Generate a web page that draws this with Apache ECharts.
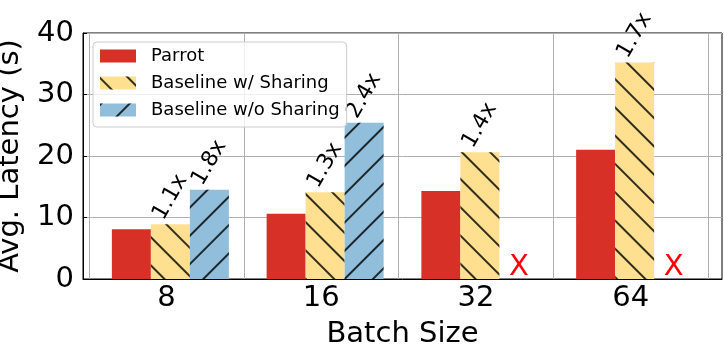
<!DOCTYPE html>
<html><head><meta charset="utf-8">
<script src="https://cdn.jsdelivr.net/npm/echarts@6/dist/echarts.min.js"></script>
<style>html,body{margin:0;padding:0;background:#fff}#c{width:724px;height:347px}</style>
</head><body><div id="c"></div>
<script>
// ---- data ----
const categories = ['8', '16', '32', '64'];
const yTicks = [0, 10, 20, 30, 40];
const seriesNames = ['Parrot', 'Baseline w/ Sharing', 'Baseline w/o Sharing'];
const parrot = [8.1, 10.6, 14.3, 21.0];
const withSharing = [8.9, 14.1, 20.6, 35.2];
const withoutSharing = [14.5, 25.4, null, null];
const withSharingLabels = ['1.1x', '1.3x', '1.4x', '1.7x'];
const withoutSharingLabels = ['1.8x', '2.4x', null, null];
const missingMark = 'X';

// ---- style ----
const FONT = 'DejaVu Sans';
const colors = ['#d73027', '#fee090', '#91bfdb'];
const yMin = yTicks[0], yMax = yTicks[yTicks.length - 1], yStep = yTicks[1] - yTicks[0];

const ratioLabel = {
  show: true, position: 'top', distance: 27, rotate: 60,
  align: 'center', verticalAlign: 'middle',
  fontFamily: FONT, fontSize: 22, color: '#000'
};
function hatch(rot) {
  return { symbol: 'rect', symbolSize: 1, dashArrayX: [1, 0], dashArrayY: [2, 18],
           rotation: rot, color: 'rgba(0,0,0,0.8)' };
}

const chart = echarts.init(document.getElementById('c'), null, { renderer: 'canvas' });
const hiddenY = (i) => ({ type: 'value', gridIndex: i, min: yMin, max: yMax, interval: yStep, show: false });
const gridBase = { top: 33, bottom: 68, outerBoundsMode: 'none', containLabel: false };

chart.setOption({
  animation: false,
  backgroundColor: '#fff',
  textStyle: { fontFamily: FONT },
  grid: [
    Object.assign({ left: 83, right: 2, show: true, borderColor: '#000', borderWidth: 1, backgroundColor: 'transparent' }, gridBase),
    Object.assign({ left: 89, right: 16 }, gridBase),
    Object.assign({ left: 93, right: 12 }, gridBase)
  ],
  xAxis: [
    { type: 'category', gridIndex: 0, data: categories, z: 10,
      axisLine: { show: true, lineStyle: { color: '#000', width: 1 } },
      axisTick: { show: false }, axisLabel: { show: false }, splitLine: { show: false },
      name: 'Batch Size', nameLocation: 'middle', nameGap: 41,
      nameTextStyle: { fontFamily: FONT, fontSize: 29, color: '#000' } },
    { type: 'category', gridIndex: 1, data: categories,
      axisLine: { show: false }, axisTick: { show: false },
      axisLabel: { margin: 5, fontFamily: FONT, fontSize: 29, color: '#000' },
      splitLine: { show: true, interval: 0, lineStyle: { color: '#b0b0b0', width: 1 } } },
    { type: 'category', gridIndex: 2, data: categories, show: false }
  ],
  yAxis: [
    { type: 'value', gridIndex: 0, min: yMin, max: yMax, interval: yStep,
      axisLine: { show: true, lineStyle: { color: '#000' } },
      axisTick: { show: true, inside: true, length: 4, lineStyle: { color: '#000' } },
      axisLabel: { margin: 9, fontFamily: FONT, fontSize: 29, color: '#000' },
      splitLine: { show: true, lineStyle: { color: '#b0b0b0', width: 1 } },
      name: 'Avg. Latency (s)', nameLocation: 'middle', nameGap: 58,
      nameTextStyle: { fontFamily: FONT, fontSize: 29, color: '#000' } },
    hiddenY(1), hiddenY(2)
  ],
  legend: {
    orient: 'vertical', left: 93, top: 42,
    padding: [5, 7, 8, 7], itemGap: 9, itemWidth: 36, itemHeight: 13,
    icon: 'rect',
    backgroundColor: 'rgba(255,255,255,0.8)', borderColor: '#cccccc', borderWidth: 1, borderRadius: 4,
    textStyle: { fontFamily: FONT, fontSize: 18, color: '#000', padding: [0, 0, 0, 10] },
    data: seriesNames
  },
  series: [
    { name: seriesNames[0], type: 'bar', xAxisIndex: 2, yAxisIndex: 2,
      barWidth: 39, barGap: '0%', itemStyle: { color: colors[0] },
      data: parrot },
    { name: seriesNames[1], type: 'bar', xAxisIndex: 2, yAxisIndex: 2,
      barWidth: 39, barGap: '0%', itemStyle: { color: colors[1], decal: hatch(Math.PI / 4) },
      label: Object.assign({}, ratioLabel, { formatter: (p) => withSharingLabels[p.dataIndex] }),
      data: withSharing },
    { name: seriesNames[2], type: 'bar', xAxisIndex: 2, yAxisIndex: 2,
      barWidth: 39, barGap: '0%', itemStyle: { color: colors[2], decal: hatch(-Math.PI / 4) },
      label: Object.assign({}, ratioLabel, { formatter: (p) => withoutSharingLabels[p.dataIndex] }),
      data: withoutSharing.map((v) => v == null
        ? { value: 0, label: { show: true, formatter: missingMark, rotate: 0, position: 'top',
              distance: 12, align: 'center', verticalAlign: 'middle',
              fontFamily: FONT, fontSize: 29, color: '#ff0000' } }
        : v) }
  ]
});
</script></body></html>
